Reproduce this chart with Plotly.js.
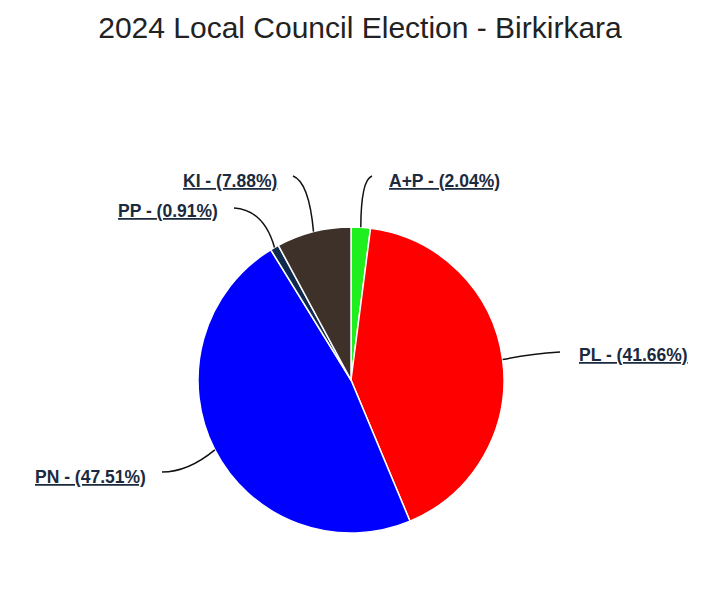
<!DOCTYPE html>
<html>
<head>
<meta charset="utf-8">
<script src="https://cdn.plot.ly/plotly-3.0.1.min.js"></script>
<style>
  html, body { margin: 0; padding: 0; background: #fff; }
  #chart { width: 720px; height: 608px; }
</style>
</head>
<body>
<div id="chart"></div>
<script>
var parties = ['A+P', 'PL', 'PN', 'PP', 'KI']
var shares = [2.04, 41.66, 47.51, 0.91, 7.88]
var colours = ['#1fef1f', '#ff0000', '#0000ff', '#0f2a4f', '#3d3129']

// where each label sits (px) and where its leader line leaves the text
var labelPos = [[444, 181], [633, 355], [90, 477], [168, 211], [230, 181]]
var lineStart = [[372, 176], [560, 352], [162, 472], [234, 208], [293, 176]]
var bend = [[361, 180], [530, 354], [188, 472], [264, 210], [309, 182]]

var W = 720, H = 608
var CX = 351, CY = 380, R = 153

function px(x) { return x / W }
function py(y) { return 1 - y / H }

var total = shares.reduce(function(a, b) { return a + b }, 0)

var annotations = []
var shapes = []
var acc = 0
for (var i = 0; i < parties.length; i++) {
    var mid = (acc + shares[i] / 2) / total * 2 * Math.PI
    acc += shares[i]
    var ex = CX + R * Math.sin(mid)
    var ey = CY - R * Math.cos(mid)

    annotations.push({
        text: '<b><u>' + parties[i] + ' - (' + shares[i].toFixed(2) + '%)</u></b>',
        xref: 'paper', yref: 'paper',
        x: px(labelPos[i][0]), y: py(labelPos[i][1]),
        xanchor: 'center', yanchor: 'middle',
        showarrow: false,
        font: { family: 'Liberation Sans, Arial, sans-serif', size: 17.5, color: '#1b2a3e' }
    })

    shapes.push({
        type: 'path',
        xref: 'paper', yref: 'paper',
        path: 'M ' + px(lineStart[i][0]) + ',' + py(lineStart[i][1]) +
              ' Q ' + px(bend[i][0]) + ',' + py(bend[i][1]) +
              ' ' + px(ex) + ',' + py(ey),
        line: { color: '#111', width: 1.5 }
    })
}

var trace = {
    type: 'pie',
    labels: parties,
    values: shares,
    sort: false,
    direction: 'clockwise',
    rotation: 0,
    textinfo: 'none',
    hoverinfo: 'label+percent',
    marker: { colors: colours, line: { color: '#ffffff', width: 1.5 } },
    domain: { x: [px(CX - R), px(CX + R)], y: [py(CY + R), py(CY - R)] }
}

var layout = {
    width: W, height: H,
    margin: { l: 0, r: 0, t: 0, b: 0 },
    paper_bgcolor: '#ffffff',
    showlegend: false,
    title: {
        text: '2024 Local Council Election - Birkirkara',
        font: { family: 'Liberation Sans, Arial, sans-serif', size: 30, color: '#222' },
        x: 0.5, xanchor: 'center',
        y: 1 - 27 / H, yanchor: 'middle', yref: 'container'
    },
    annotations: annotations,
    shapes: shapes
}

Plotly.newPlot('chart', [trace], layout, { displayModeBar: false, staticPlot: true })
</script>
</body>
</html>
